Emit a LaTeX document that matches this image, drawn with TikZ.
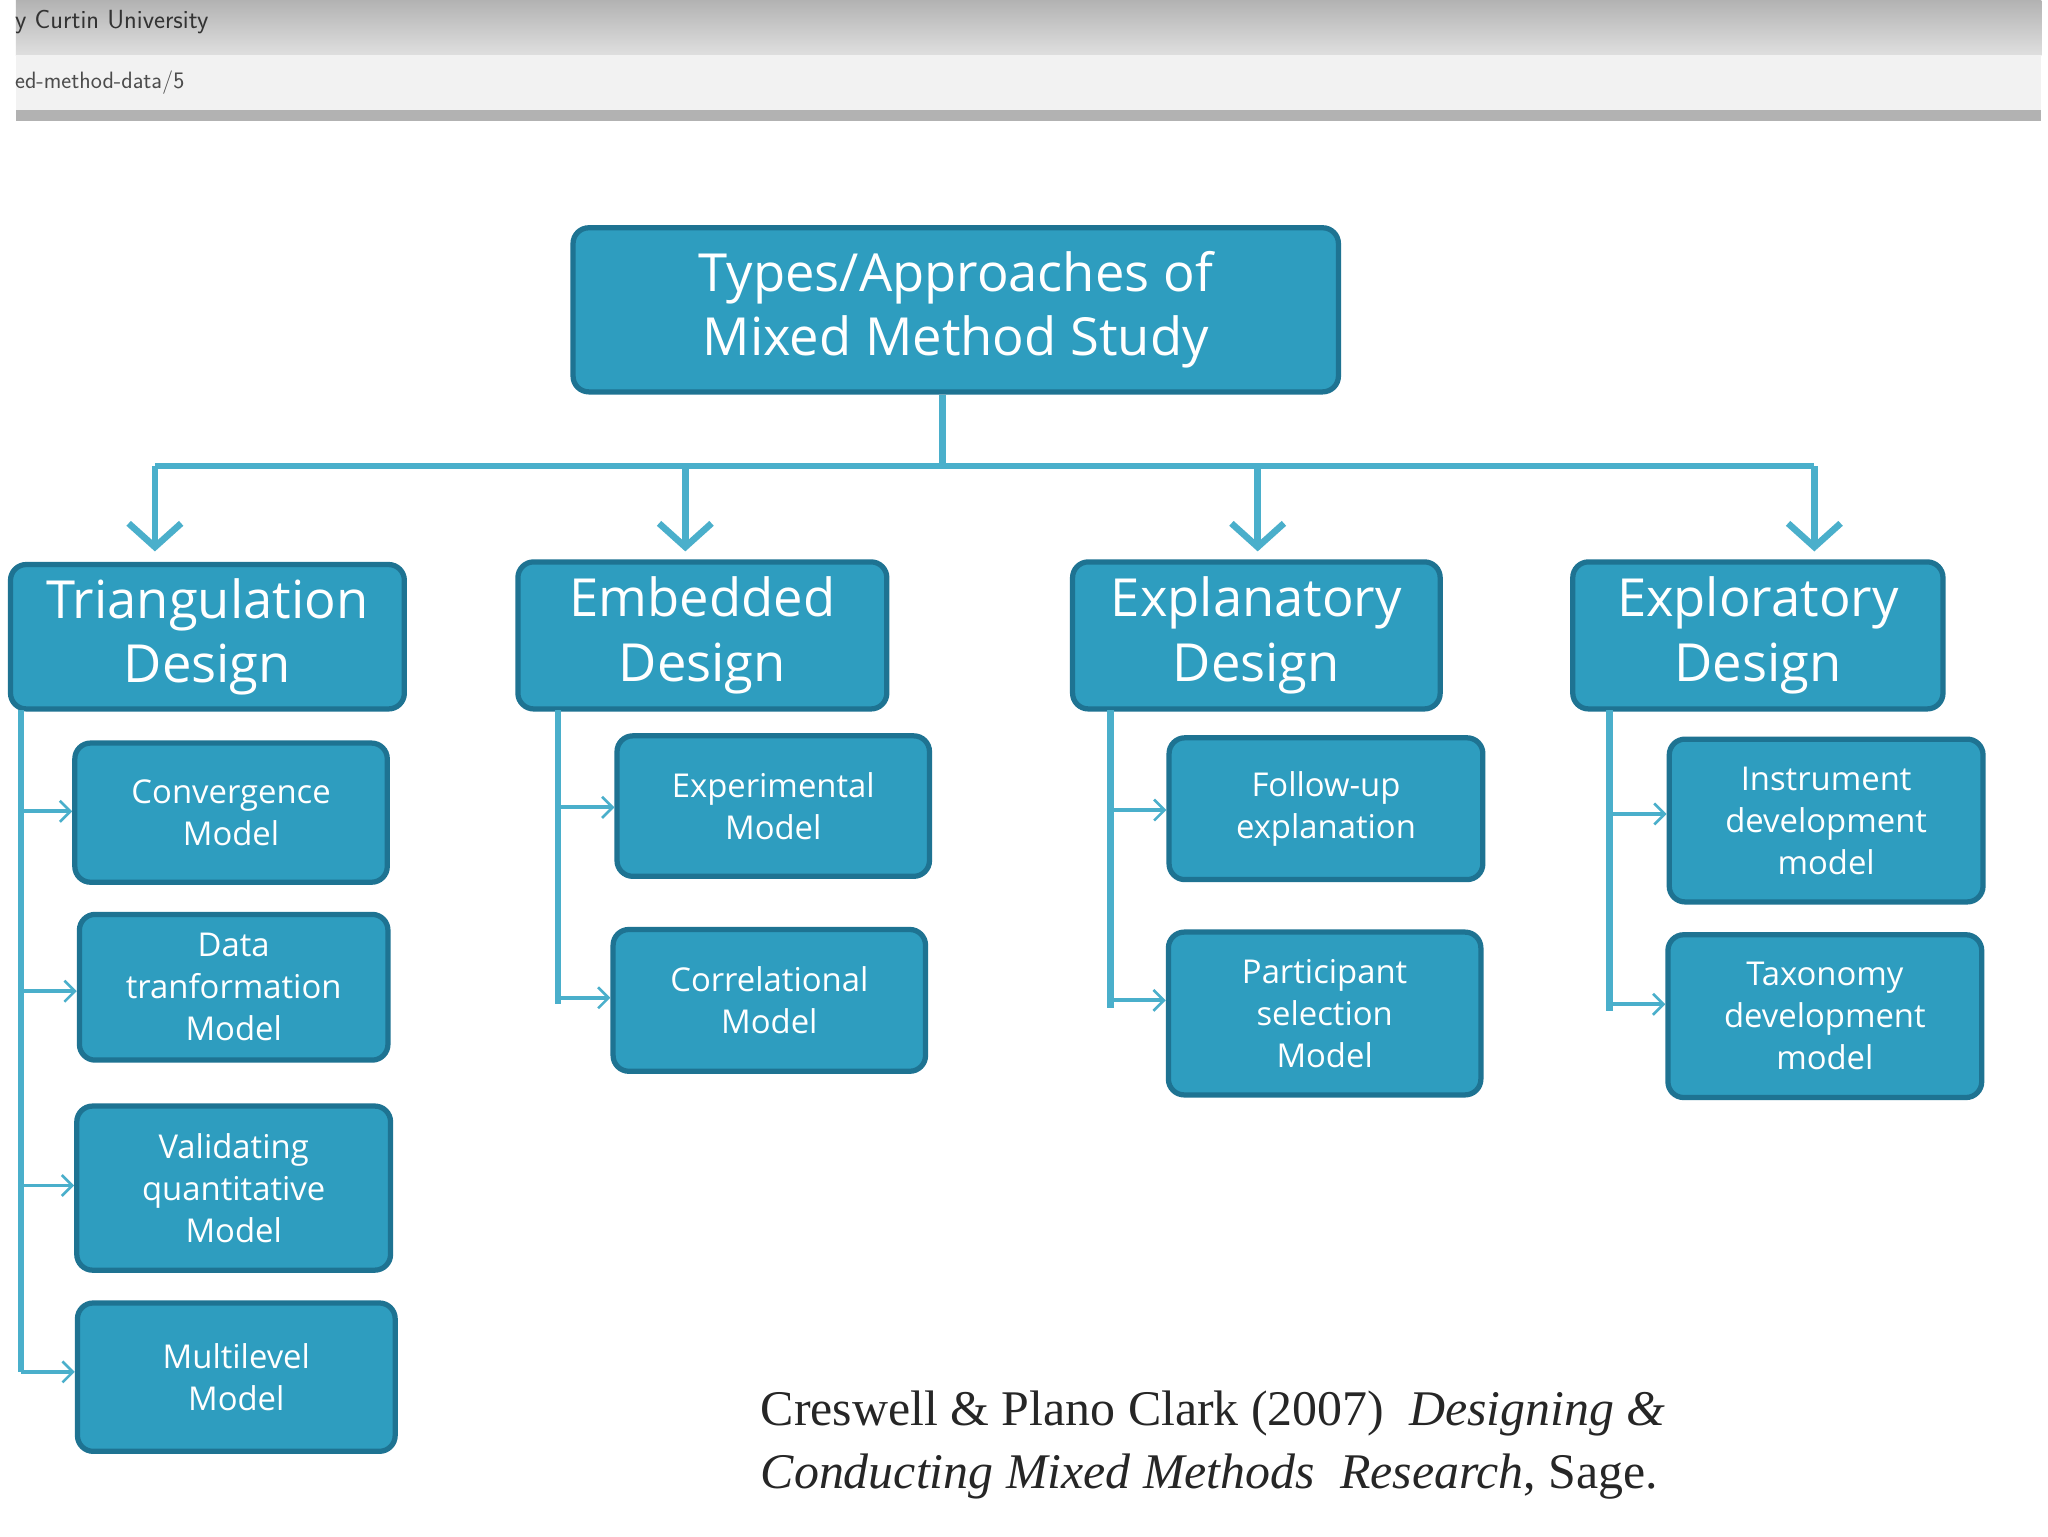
\documentclass[tikz,border=0pt]{standalone}
\usepackage{fontspec}
\setmainfont{Liberation Serif}
\newfontfamily\boxfont{Open Sans}
\usetikzlibrary{arrows.meta}
\definecolor{tealf}{HTML}{2E9DBF}
\definecolor{teald}{HTML}{1E7392}
\definecolor{linec}{HTML}{4AAFCB}
\begin{document}
\begin{tikzpicture}[x=1pt,y=-1pt,
  bx/.style={draw=teald,line width=4pt,fill=tealf,rounded corners=12pt,text=white,font=\boxfont,align=center,inner sep=0pt},
  conn/.style={draw=linec,line width=5pt},
  bigarr/.style={draw=linec,line width=5pt,-{Straight Barb[length=18pt,width=40pt,line width=5pt]}},
  smarr/.style={draw=linec,line width=3pt,-{Straight Barb[length=8pt,width=16pt,line width=2pt]}}]
\useasboundingbox (0,0) rectangle (1560,1170);
\clip (0,0) rectangle (1560,1170);
\fill[white] (0,0) rectangle (1560,1170);
% browser bar
\shade[top color=gray!60,bottom color=gray!25] (12,0) rectangle (1555,42);
\fill[gray!10] (12,42) rectangle (1555,84);
\fill[gray!60] (12,84) rectangle (1555,92);
\node[anchor=west,font=\fontsize{20}{22}\selectfont\sffamily,text=black!80] (t1) at (8,17) {y Curtin University};
\node[anchor=west,font=\fontsize{18}{20}\selectfont\sffamily,text=black!70] (t2) at (8,63) {ed-method-data/5};
% boxes
\newcommand\bbox[6]{\node[bx,minimum width=#4-#2,minimum height=#5-#3,font=\boxfont#6] (#1) at ({(#2+#4)/2},{(#3+#5)/2}) {};}
\def\big{\fontsize{40}{49}\selectfont}
\def\sml{\fontsize{25}{32}\selectfont}
\node[bx,minimum width=583,minimum height=125,font=\boxfont\fontsize{40}{49}\selectfont] (top) at (728,236) {Types/Approaches of\\Mixed Method Study};
\node[bx,minimum width=300,minimum height=110,font=\boxfont\big] (tri) at (158,485) {Triangulation\\Design};
\node[bx,minimum width=281,minimum height=112,font=\boxfont\big] (emb) at (535,484) {Embedded\\Design};
\node[bx,minimum width=280,minimum height=112,font=\boxfont\big] (expl) at (957,484) {Explanatory\\Design};
\node[bx,minimum width=282,minimum height=112,font=\boxfont\big] (expo) at (1339,484) {Exploratory\\Design};
\node[bx,minimum width=238,minimum height=106,font=\boxfont\sml] (c1) at (176,619) {Convergence\\Model};
\node[bx,minimum width=235,minimum height=111,font=\boxfont\sml] (c2) at (178,752) {Data\\tranformation\\Model};
\node[bx,minimum width=239,minimum height=125,font=\boxfont\sml] (c3) at (178,905) {Validating\\quantitative\\Model};
\node[bx,minimum width=242,minimum height=113,font=\boxfont\sml] (c4) at (180,1049) {Multilevel\\Model};
\node[bx,minimum width=238,minimum height=107,font=\boxfont\sml] (e1) at (589,614) {Experimental\\Model};
\node[bx,minimum width=238,minimum height=108,font=\boxfont\sml] (e2) at (586,762) {Correlational\\Model};
\node[bx,minimum width=239,minimum height=108,font=\boxfont\sml] (x1) at (1010,616) {Follow-up\\explanation};
\node[bx,minimum width=238,minimum height=124,font=\boxfont\sml] (x2) at (1009,772) {Participant\\selection\\Model};
\node[bx,minimum width=239,minimum height=124,font=\boxfont\sml] (p1) at (1391,625) {Instrument\\development\\model};
\node[bx,minimum width=239,minimum height=124,font=\boxfont\sml] (p2) at (1390,774) {Taxonomy\\development\\model};
% connectors
\coordinate (j) at (718,355);
\coordinate (hl) at (118,355); \coordinate (hr) at (1382,355);
\coordinate (h2) at (522,355); \coordinate (h3) at (958,355);
\draw[conn] (top.south -| j) -- (j);
\draw[conn] (hl) -- (hr);
\draw[bigarr] (hl) -- (118,420);
\draw[bigarr] (h2) -- (522,420);
\draw[bigarr] (h3) -- (958,420);
\draw[bigarr] (hr) -- (1382,420);
\coordinate (v1) at (16,541); \coordinate (v1e) at (16,1045);
\coordinate (v2) at (425,541); \coordinate (v2e) at (425,765);
\coordinate (v3) at (846,541); \coordinate (v3e) at (846,768);
\coordinate (v4) at (1226,541); \coordinate (v4e) at (1226,770);
\draw[conn] (v1)--(v1e); \draw[conn] (v2)--(v2e); \draw[conn] (v3)--(v3e); \draw[conn] (v4)--(v4e);
\draw[smarr] (16,618) -- (c1.west|-0,618);
\draw[smarr] (16,755) -- (c2.west|-0,755);
\draw[smarr] (16,903) -- (c3.west|-0,903);
\draw[smarr] (16,1045) -- (c4.west|-0,1045);
\draw[smarr] (425,615) -- (e1.west|-0,615);
\draw[smarr] (425,760) -- (e2.west|-0,760);
\draw[smarr] (846,617) -- (x1.west|-0,617);
\draw[smarr] (846,762) -- (x2.west|-0,762);
\draw[smarr] (1226,620) -- (p1.west|-0,620);
\draw[smarr] (1226,765) -- (p2.west|-0,765);
% citation
\node[anchor=north west,align=left,font=\fontsize{38}{48}\selectfont,text=black!85] (cit) at (576,1056) {Creswell \& Plano Clark (2007)\ \ \textit{Designing \&}\\\textit{Conducting Mixed Methods\ \ Research}, Sage.};
\end{tikzpicture}
\end{document}
